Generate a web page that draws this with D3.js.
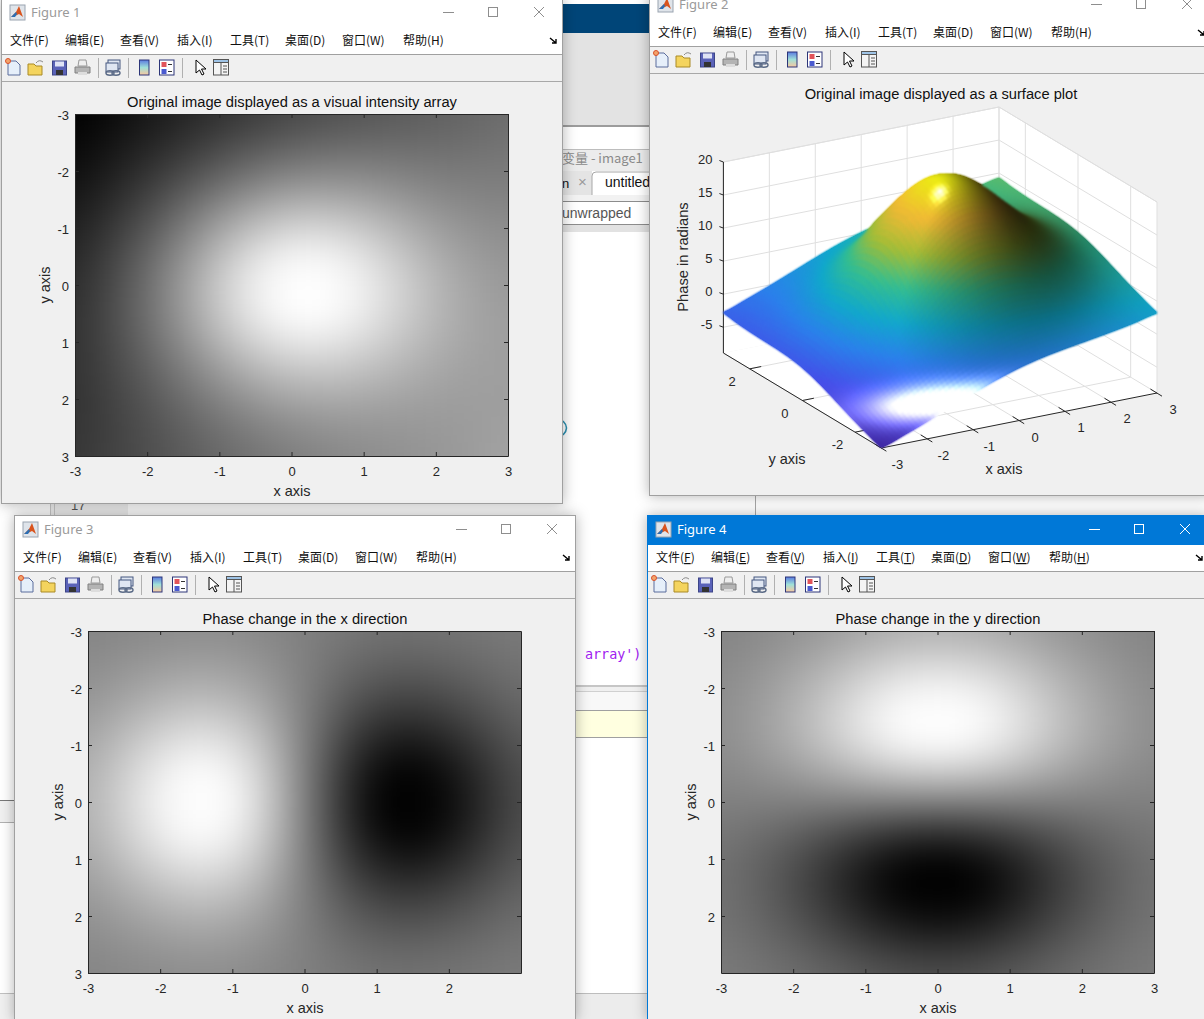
<!DOCTYPE html>
<html>
<head>
<meta charset="utf-8">
<script src="https://cdn.jsdelivr.net/npm/d3@7"></script>
<style>
  html, body {margin:0; padding:0; background:#fff; overflow:hidden;}
  svg {display:block;}
  text {font-family:"Liberation Sans", Arial, sans-serif; fill:#262626;}
  .menu {font-family:"Noto Sans CJK SC", sans-serif; font-size:12px; fill:#111;}
</style>
</head>
<body>
<script>
'use strict';

// ---- data ----
var figureNames = ['Figure 1', 'Figure 2', 'Figure 3', 'Figure 4'];
var titles = [
  'Original image displayed as a visual intensity array',
  'Original image displayed as a surface plot',
  'Phase change in the x direction',
  'Phase change in the y direction'
];
var menuNames = ['文件', '编辑', '查看', '插入', '工具', '桌面', '窗口', '帮助'];
var menuKeys = ['F', 'E', 'V', 'I', 'T', 'D', 'W', 'H'];

var gridValues = [-3, -2.5, -2, -1.5, -1, -0.5, 0, 0.5, 1, 1.5, 2, 2.5, 3];
var allTicks = [-3, -2, -1, 0, 1, 2, 3];
var shortTicks = [-3, -2, -1, 0, 1, 2];
var surfXTicks = [-3, -2, -1, 0, 1, 2, 3];
var surfYTicks = [-2, 0, 2];
var surfZTicks = [-5, 0, 5, 10, 15, 20];

// phase in radians, rows y=-3..3, columns x=-3..3
var phase = [
  [-8.78,-7.56,-6.22,-4.8,-3.36,-2.02,-0.89,-0.02,0.64,1.2,1.78,2.44,3.22],
  [-8.06,-6.62,-4.96,-3.11,-1.23,0.44,1.69,2.44,2.77,2.89,3.04,3.38,3.94],
  [-7.22,-5.46,-3.29,-0.81,1.73,3.91,5.36,5.91,5.73,5.19,4.71,4.54,4.78],
  [-6.3,-4.11,-1.31,1.99,5.38,8.21,9.9,10.21,9.38,7.99,6.69,5.89,5.7],
  [-5.36,-2.73,0.73,4.88,9.13,12.63,14.58,14.63,13.13,10.88,8.73,7.27,6.64],
  [-4.52,-1.56,2.41,7.21,12.13,16.15,18.29,18.15,16.13,13.21,10.41,8.44,7.48],
  [-3.89,-0.81,3.36,8.4,13.58,17.79,20,19.79,17.58,14.4,11.36,9.19,8.11],
  [-3.52,-0.56,3.41,8.21,13.13,17.15,19.29,19.15,17.13,14.21,11.41,9.44,8.48],
  [-3.36,-0.73,2.73,6.88,11.13,14.63,16.58,16.63,15.13,12.88,10.73,9.27,8.64],
  [-3.3,-1.11,1.69,4.99,8.38,11.21,12.9,13.21,12.38,10.99,9.69,8.89,8.7],
  [-3.22,-1.46,0.71,3.19,5.73,7.91,9.36,9.91,9.73,9.19,8.71,8.54,8.78],
  [-3.06,-1.62,0.04,1.89,3.77,5.44,6.69,7.44,7.77,7.89,8.04,8.38,8.94],
  [-2.78,-1.56,-0.22,1.2,2.64,3.98,5.11,5.98,6.64,7.2,7.78,8.44,9.22]
];

// phase change in the x direction
var changeX = [
  [2.33,2.55,2.78,2.9,2.82,2.5,2,1.5,1.18,1.1,1.22,1.45,1.67],
  [2.66,3.1,3.54,3.79,3.64,2.99,2,1.01,0.36,0.21,0.46,0.9,1.34],
  [3.17,3.93,4.71,5.14,4.87,3.73,2,0.27,-0.87,-1.14,-0.71,0.07,0.83],
  [3.8,4.99,6.19,6.87,6.44,4.68,2,-0.68,-2.44,-2.87,-2.19,-0.99,0.2],
  [4.46,6.09,7.73,8.66,8.07,5.66,2,-1.66,-4.07,-4.66,-3.73,-2.09,-0.46],
  [4.97,6.93,8.91,10.03,9.32,6.41,2,-2.41,-5.32,-6.03,-4.91,-2.93,-0.97],
  [5.17,7.24,9.36,10.55,9.79,6.7,2,-2.7,-5.79,-6.55,-5.36,-3.24,-1.17],
  [4.97,6.93,8.91,10.03,9.32,6.41,2,-2.41,-5.32,-6.03,-4.91,-2.93,-0.97],
  [4.46,6.09,7.73,8.66,8.07,5.66,2,-1.66,-4.07,-4.66,-3.73,-2.09,-0.46],
  [3.8,4.99,6.19,6.87,6.44,4.68,2,-0.68,-2.44,-2.87,-2.19,-0.99,0.2],
  [3.17,3.93,4.71,5.14,4.87,3.73,2,0.27,-0.87,-1.14,-0.71,0.07,0.83],
  [2.66,3.1,3.54,3.79,3.64,2.99,2,1.01,0.36,0.21,0.46,0.9,1.34],
  [2.33,2.55,2.78,2.9,2.82,2.5,2,1.5,1.18,1.1,1.22,1.45,1.67]
];

// phase change in the y direction
var changeY = [
  [1.33,1.66,2.17,2.8,3.46,3.97,4.17,3.97,3.46,2.8,2.17,1.66,1.33],
  [1.55,2.1,2.93,3.99,5.09,5.93,6.24,5.93,5.09,3.99,2.93,2.1,1.55],
  [1.78,2.54,3.71,5.19,6.73,7.91,8.36,7.91,6.73,5.19,3.71,2.54,1.78],
  [1.9,2.79,4.14,5.87,7.66,9.03,9.55,9.03,7.66,5.87,4.14,2.79,1.9],
  [1.82,2.64,3.87,5.44,7.07,8.32,8.79,8.32,7.07,5.44,3.87,2.64,1.82],
  [1.5,1.99,2.73,3.68,4.66,5.41,5.7,5.41,4.66,3.68,2.73,1.99,1.5],
  [1,1,1,1,1,1,1,1,1,1,1,1,1],
  [0.5,0.01,-0.73,-1.68,-2.66,-3.41,-3.7,-3.41,-2.66,-1.68,-0.73,0.01,0.5],
  [0.18,-0.64,-1.87,-3.44,-5.07,-6.32,-6.79,-6.32,-5.07,-3.44,-1.87,-0.64,0.18],
  [0.1,-0.79,-2.14,-3.87,-5.66,-7.03,-7.55,-7.03,-5.66,-3.87,-2.14,-0.79,0.1],
  [0.22,-0.54,-1.71,-3.19,-4.73,-5.91,-6.36,-5.91,-4.73,-3.19,-1.71,-0.54,0.22],
  [0.45,-0.1,-0.93,-1.99,-3.09,-3.93,-4.24,-3.93,-3.09,-1.99,-0.93,-0.1,0.45],
  [0.67,0.34,-0.17,-0.8,-1.46,-1.97,-2.17,-1.97,-1.46,-0.8,-0.17,0.34,0.67]
];

// surface colormap stops
var parula = ['#3e26a8','#4852f4','#2d87f7','#12b1d6','#37c897','#abc739','#fec338','#f9fb14'];

var width = 1204, height = 1019;
var svg = d3.select('body').append('svg')
  .attr('width', width)
  .attr('height', height);
var defs = svg.append('defs');

var shadow = defs.append('filter').attr('id', 'winShadow')
  .attr('x', '-10%').attr('y', '-10%').attr('width', '120%').attr('height', '120%');
shadow.append('feDropShadow').attr('dx', 0).attr('dy', 0).attr('stdDeviation', 7)
  .attr('flood-color', '#000').attr('flood-opacity', 0.3);

// ---- desktop behind the windows ----
function bgRect(x, y, w, h, fill){
  svg.append('rect').attr('x', x).attr('y', y).attr('width', w).attr('height', h).attr('fill', fill);
}
function bgText(x, y, str, size, fill, family){
  svg.append('text').attr('x', x).attr('y', y).text(str)
    .style('font-size', size + 'px').style('fill', fill).style('font-family', family);
}
bgRect(562, 4, 90, 29, '#004578');
bgRect(562, 33, 90, 92, '#e3e3e3');
bgRect(562, 125, 90, 2, '#9c9c9c');
bgRect(562, 150, 90, 21, '#ececec');
bgRect(562, 149, 90, 1, '#bdbdbd');
bgText(562, 163, '变量 - image1', 13, '#8a8a8a', '"Noto Sans CJK SC"');
bgRect(562, 171, 30, 24, '#e4e4e4');
bgRect(592, 171, 60, 24, '#fff');
svg.append('path').attr('d', 'M592,195V176q0,-4 4,-4H652').attr('fill', 'none').attr('stroke', '#a8a8a8');
bgText(562, 188, 'n', 13, '#111', '"Liberation Sans"');
bgText(578, 187, '×', 15, '#9a9a9a', '"Liberation Sans"');
bgText(605, 187, 'untitled', 14, '#111', '"Liberation Sans"');
bgRect(562, 195, 90, 6, '#f2f2f2');
bgRect(562, 201, 90, 1, '#8c8c8c');
bgText(562, 218, 'unwrapped', 14, '#555', '"Liberation Sans"');
bgRect(562, 224, 90, 1, '#8c8c8c');
bgRect(562, 225, 90, 7, '#e2e2e2');
svg.append('path').attr('d', 'M563,421q7,7 0,14').attr('fill', 'none').attr('stroke', '#2a8fb0').attr('stroke-width', 1.5);
bgRect(50, 503, 78, 14, '#efefef');
bgRect(50, 503, 1, 14, '#c8c8c8');
bgRect(54, 503, 1, 14, '#c8c8c8');
bgText(71, 510, '17', 13, '#555', '"Liberation Sans"');
bgRect(755, 495, 1, 20, '#a8a8a8');
bgRect(0, 800, 15, 1, '#777');
bgRect(0, 801, 15, 21, '#f0f0f0');
bgRect(0, 822, 15, 1, '#b0b0b0');
bgRect(0, 993, 15, 1, '#c0c0c0');
bgRect(0, 994, 15, 25, '#f0f0f0');
bgText(585, 659, "array')", 13.4, '#a020f0', '"DejaVu Sans Mono"');
bgRect(576, 685, 72, 2, '#c6c6c6');
bgRect(576, 687, 72, 4, '#f0f0f0');
bgRect(576, 691, 72, 1, '#d0d0d0');
bgRect(576, 692, 72, 18, '#f8f8f8');
bgRect(576, 710, 72, 1, '#a0a0a0');
bgRect(576, 711, 72, 26, '#ffffe0');
bgRect(576, 737, 72, 1, '#a0a0a0');
bgRect(576, 993, 72, 1, '#bdbdbd');
bgRect(576, 994, 72, 25, '#ececec');

// ---- window chrome ----
var toolbarBits = [
  {x:6, draw:iconNew}, {x:28, draw:iconOpen}, {x:52, draw:iconSave}, {x:75, draw:iconPrint},
  {x:105, draw:iconLink}, {x:139, draw:iconColorbar}, {x:159, draw:iconLegend},
  {x:195, draw:iconArrow}, {x:213, draw:iconPanel}
];
var separators = [98, 128, 182];
var menuX = [10, 65, 120, 177, 230, 285, 342, 403];

function iconNew(g){
  g.append('path').attr('d', 'M2,2H10L14,6V16H2Z').attr('fill', '#e6effa').attr('stroke', '#5b6c9c');
  g.append('circle').attr('cx', 2).attr('cy', 2).attr('r', 2.5).attr('fill', '#f3a46b').attr('stroke', '#d8502a');
}
function iconOpen(g){
  g.append('path').attr('d', 'M0,5H6L8,7H14V16H0Z').attr('fill', '#f4d45e').attr('stroke', '#a98a26');
  g.append('path').attr('d', 'M8,4Q11,0 15,3').attr('fill', 'none').attr('stroke', '#8a8a8a');
}
function iconSave(g){
  g.append('rect').attr('x', 0.5).attr('y', 2).attr('width', 14).attr('height', 14).attr('fill', '#5a62b8').attr('stroke', '#3c4588');
  g.append('rect').attr('x', 3).attr('y', 2.5).attr('width', 9).attr('height', 5).attr('fill', '#dfe3f5');
  g.append('rect').attr('x', 4).attr('y', 11).attr('width', 7).attr('height', 5).attr('fill', '#333');
}
function iconPrint(g){
  g.append('path').attr('d', 'M4,1H11L12,7H3Z').attr('fill', '#eeeeee').attr('stroke', '#9a9a9a');
  g.append('path').attr('d', 'M0,8H15V14H0Z').attr('fill', '#b4b4b4').attr('stroke', '#808080');
  g.append('rect').attr('x', 3).attr('y', 13).attr('width', 9).attr('height', 3).attr('fill', '#ddd');
}
function iconLink(g){
  g.append('rect').attr('x', 3).attr('y', 1).attr('width', 12).attr('height', 9).attr('fill', '#dfe6f2').attr('stroke', '#44567f');
  g.append('rect').attr('x', 1).attr('y', 4).attr('width', 12).attr('height', 9).attr('fill', '#dfe6f2').attr('stroke', '#44567f');
  g.append('ellipse').attr('cx', 5).attr('cy', 14).attr('rx', 4).attr('ry', 2.2).attr('fill', 'none').attr('stroke', '#5a6a86').attr('stroke-width', 1.5);
  g.append('ellipse').attr('cx', 11).attr('cy', 14).attr('rx', 4).attr('ry', 2.2).attr('fill', 'none').attr('stroke', '#5a6a86').attr('stroke-width', 1.5);
}
function iconColorbar(g){
  g.append('rect').attr('x', 0.5).attr('y', 1).attr('width', 9.5).attr('height', 15).attr('fill', 'url(#barGrad)').attr('stroke', '#2c3578');
}
function iconLegend(g){
  g.append('rect').attr('x', 0.5).attr('y', 1).attr('width', 14.5).attr('height', 15).attr('fill', '#fff').attr('stroke', '#2c3578');
  g.append('rect').attr('x', 2.5).attr('y', 3).attr('width', 5).attr('height', 5).attr('fill', '#e2545a');
  g.append('rect').attr('x', 2.5).attr('y', 10).attr('width', 5).attr('height', 5).attr('fill', '#4a5ad0');
  g.append('path').attr('d', 'M9,5.5H13M9,12.5H13').attr('stroke', '#333');
}
function iconArrow(g){
  g.append('path').attr('d', 'M1,1V14L4.5,11L7,16L9,15L6.5,10H11Z').attr('fill', '#fff').attr('stroke', '#000');
}
function iconPanel(g){
  g.append('rect').attr('x', 0.5).attr('y', 0.5).attr('width', 15).attr('height', 15.5).attr('fill', '#f4f4f4').attr('stroke', '#555');
  g.append('rect').attr('x', 0.5).attr('y', 0.5).attr('width', 15).attr('height', 3).attr('fill', '#9ec3e6').attr('stroke', '#555');
  g.append('path').attr('d', 'M8,4V16M10,7H14M10,10H14M10,13H14').attr('stroke', '#555').attr('fill', 'none');
}

var barGrad = defs.append('linearGradient').attr('id', 'barGrad').attr('x1', 0).attr('x2', 0).attr('y1', 0).attr('y2', 1);
barGrad.append('stop').attr('offset', '0%').attr('stop-color', '#5a7be0');
barGrad.append('stop').attr('offset', '50%').attr('stop-color', '#9fe0d8');
barGrad.append('stop').attr('offset', '100%').attr('stop-color', '#f8c8a0');

function drawWindow(idx, ox, oy, active){
  var w = svg.append('g').attr('transform', 'translate(' + ox + ',' + oy + ')');
  var edge = active ? '#0078d7' : '#a0a0a0';
  w.append('rect').attr('x', 1.5).attr('y', -1.5).attr('width', 561).attr('height', 505)
    .attr('fill', '#f0f0f0').attr('stroke', edge).attr('filter', 'url(#winShadow)');
  w.append('rect').attr('x', 2).attr('y', -1).attr('width', 560).attr('height', 55).attr('fill', '#fff');
  if(active) w.append('rect').attr('x', 1).attr('y', -2).attr('width', 562).attr('height', 30).attr('fill', '#0078d7');
  // title bar
  w.append('rect').attr('x', 10).attr('y', 5).attr('width', 15).attr('height', 15).attr('fill', '#dfe4ea').attr('stroke', '#9aa4b0');
  w.append('path').attr('d', 'M11,17L16,12L19,6L23,17L19,14L15,16Z').attr('fill', '#d9541e');
  w.append('path').attr('d', 'M11,17L16,12L17,14L15,17Z').attr('fill', '#2a6fb5');
  w.append('text').attr('x', 31).attr('y', 17).text(figureNames[idx])
    .style('font-family', '"Noto Sans", sans-serif').style('font-size', '13px')
    .style('fill', active ? '#fff' : '#9a9a9a');
  var ctl = active ? '#fff' : '#8e8e8e';
  w.append('path').attr('d', 'M443,12.5H454').attr('stroke', ctl);
  w.append('rect').attr('x', 488.5).attr('y', 7.5).attr('width', 9).attr('height', 9).attr('fill', 'none').attr('stroke', ctl);
  w.append('path').attr('d', 'M534,7L544,17M544,7L534,17').attr('stroke', ctl);
  // menu
  menuNames.forEach(function(name, i){
    var t = w.append('text').attr('class', 'menu').attr('x', menuX[i]).attr('y', 45);
    t.append('tspan').text(name + '(');
    t.append('tspan').text(menuKeys[i]).style('text-decoration', active ? 'underline' : 'none');
    t.append('tspan').text(')');
  });
  w.append('path').attr('d', 'M550,38L556,43M556,39V43H552').attr('stroke', '#000').attr('fill', 'none').attr('stroke-width', 1.4);
  // toolbar
  w.append('rect').attr('x', 2).attr('y', 54).attr('width', 560).attr('height', 1).attr('fill', '#a0a0a0');
  w.append('rect').attr('x', 2).attr('y', 81).attr('width', 560).attr('height', 1).attr('fill', '#a8a8a8');
  separators.forEach(function(x){
    w.append('rect').attr('x', x).attr('y', 58).attr('width', 1).attr('height', 20).attr('fill', '#b0b0b0');
  });
  toolbarBits.forEach(function(b){
    b.draw(w.append('g').attr('transform', 'translate(' + b.x + ',59)'));
  });
  return w;
}

function axisLook(g){
  g.style('font-family', '"Liberation Sans", Arial, sans-serif').style('font-size', '13px');
  g.selectAll('.domain').attr('stroke', '#262626');
  g.selectAll('.tick line').attr('stroke', '#262626');
  g.selectAll('.tick text').style('fill', '#262626');
}

// ---- gray image panels ----
function drawImage(idx, table, domain, xTicks, yTicks, ox, oy, active){
  var w = drawWindow(idx, ox, oy, active);
  var xScale = d3.scaleLinear().domain([-3, 3]).range([75, 508]);
  var yScale = d3.scaleLinear().domain([-3, 3]).range([114, 456]);
  var gray = d3.scaleLinear().domain(domain).range(['#000000', '#ffffff']).clamp(true);
  var xBand = d3.scaleBand().domain(gridValues).range([xScale(-3.25), xScale(3.25)]);
  var yBand = d3.scaleBand().domain(gridValues).range([yScale(-3.25), yScale(3.25)]);

  var blur = defs.append('filter').attr('id', 'imgBlur' + idx)
    .attr('filterUnits', 'userSpaceOnUse')
    .attr('x', 0).attr('y', 40).attr('width', 600).attr('height', 520)
    .attr('color-interpolation-filters', 'sRGB');
  blur.append('feGaussianBlur').attr('stdDeviation', (xBand.bandwidth() * 0.55) + ' ' + (yBand.bandwidth() * 0.55));
  defs.append('clipPath').attr('id', 'imgClip' + idx).append('rect')
    .attr('x', 75).attr('y', 114).attr('width', 433).attr('height', 342);

  var cells = [];
  table.forEach(function(row, j){
    row.forEach(function(v, i){ cells.push({i:i, j:j, v:v}); });
  });
  var pad = 45; // outer cells run past the axes so the blur does not fade at the edge
  w.append('g').attr('clip-path', 'url(#imgClip' + idx + ')')
    .append('g').attr('filter', 'url(#imgBlur' + idx + ')')
    .selectAll('rect').data(cells).enter().append('rect')
      .attr('x', function(d){return xBand(gridValues[d.i]) - (d.i === 0 ? pad : 0);})
      .attr('y', function(d){return yBand(gridValues[d.j]) - (d.j === 0 ? pad : 0);})
      .attr('width', function(d){return xBand.bandwidth() + 0.6 + (d.i === 0 || d.i === 12 ? pad : 0);})
      .attr('height', function(d){return yBand.bandwidth() + 0.6 + (d.j === 0 || d.j === 12 ? pad : 0);})
      .attr('fill', function(d){return gray(d.v);});

  var fmt = function(d){return String(d);};
  w.append('g').attr('transform', 'translate(0,456)')
    .call(d3.axisBottom(xScale).tickValues(xTicks).tickSizeInner(-4).tickSizeOuter(0).tickPadding(10.5).tickFormat(fmt)).call(axisLook);
  w.append('g').attr('transform', 'translate(75,0)')
    .call(d3.axisLeft(yScale).tickValues(yTicks).tickSizeInner(-4).tickSizeOuter(0).tickPadding(6).tickFormat(fmt)).call(axisLook)
    .selectAll('.tick text').attr('y', 1);
  w.append('g').attr('transform', 'translate(0,114)')
    .call(d3.axisTop(xScale).tickValues(xTicks).tickSizeInner(-4).tickSizeOuter(0).tickFormat('')).call(axisLook);
  w.append('g').attr('transform', 'translate(508,0)')
    .call(d3.axisRight(yScale).tickValues(yTicks).tickSizeInner(-4).tickSizeOuter(0).tickFormat('')).call(axisLook);

  w.append('text').attr('x', 292).attr('y', 107).attr('text-anchor', 'middle').text(titles[idx]).style('font-size', '14.7px').style('fill', '#111');
  w.append('text').attr('x', 292).attr('y', 496).attr('text-anchor', 'middle').text('x axis').style('font-size', '14.5px');
  w.append('text').attr('transform', 'translate(50,285) rotate(-90)').attr('text-anchor', 'middle').text('y axis').style('font-size', '14.5px');
}

// ---- surface panel ----
// catmull-rom through four neighbours, used only to shade the mesh the way interp shading does
function spline(list, t){
  var k = Math.min(Math.floor(t), list.length - 2), u = t - k;
  var a = list[Math.max(k - 1, 0)], b = list[k], c = list[k + 1], d = list[Math.min(k + 2, list.length - 1)];
  return b + 0.5 * u * (c - a + u * (2 * a - 5 * b + 4 * c - d + u * (3 * (b - c) + d - a)));
}
function refine(table, steps, m){
  var rowsFine = table.map(function(row){
    return d3.range(m).map(function(a){return spline(row, a / steps);});
  });
  return d3.range(m).map(function(b){
    return d3.range(m).map(function(a){
      return spline(rowsFine.map(function(r){return r[a];}), b / steps);
    });
  });
}

function drawSurface(idx, ox, oy){
  var w = drawWindow(idx, ox, oy, false);
  // page coordinates minus the window offset
  var horizX = d3.scaleLinear().domain([-3, 3]).range([0, 275.6]);
  var horizY = d3.scaleLinear().domain([-3, 3]).range([0, -158]);
  var vertX = d3.scaleLinear().domain([-3, 3]).range([0, -55]);
  var vertY = d3.scaleLinear().domain([-3, 3]).range([0, -95]);
  var vertZ = d3.scaleLinear().domain([-8.9, 20]).range([0, -191]);
  var x0 = 881.4 - ox, y0 = 448 - oy;
  function proj(x, y, z){
    return [x0 + horizX(x) + horizY(y), y0 + vertX(x) + vertY(y) + vertZ(z)];
  }

  var line = d3.line();
  function wall(points, fill, stroke){
    w.append('path').attr('d', line(points) + 'Z').attr('fill', fill).attr('stroke', stroke || 'none');
  }
  wall([proj(-3,3,-8.9), proj(3,3,-8.9), proj(3,3,20), proj(-3,3,20)], '#fff');
  wall([proj(3,3,-8.9), proj(3,-3,-8.9), proj(3,-3,20), proj(3,3,20)], '#fff');
  wall([proj(-3,-3,-8.9), proj(3,-3,-8.9), proj(3,3,-8.9), proj(-3,3,-8.9)], '#fff');

  var gridColor = '#dfdfdf';
  var grid = w.append('g').attr('fill', 'none').attr('stroke', gridColor);
  surfXTicks.forEach(function(x){
    grid.append('path').attr('d', line([proj(x,-3,-8.9), proj(x,3,-8.9), proj(x,3,20)]));
  });
  surfYTicks.forEach(function(y){
    grid.append('path').attr('d', line([proj(-3,y,-8.9), proj(3,y,-8.9), proj(3,y,20)]));
  });
  surfZTicks.forEach(function(z){
    grid.append('path').attr('d', line([proj(-3,3,z), proj(3,3,z), proj(3,-3,z)]));
  });
  grid.append('path').attr('d', line([proj(3,3,-8.9), proj(3,3,20)]));
  grid.append('path').attr('d', line([proj(-3,3,20), proj(3,3,20), proj(3,-3,20), proj(3,-3,-8.9)]));

  // axis lines and ticks
  var axisGroup = w.append('g').attr('fill', 'none').attr('stroke', '#262626');
  axisGroup.append('path').attr('d', line([proj(-3,3,20), proj(-3,3,-8.9), proj(-3,-3,-8.9), proj(3,-3,-8.9)]));
  surfXTicks.forEach(function(x){
    var p = proj(x,-3,-8.9);
    axisGroup.append('path').attr('d', line([[p[0] + 5, p[1] + 3.2], proj(x,-2.75,-8.9)]));
  });
  surfYTicks.forEach(function(y){
    axisGroup.append('path').attr('d', line([proj(-3,y,-8.9), proj(-2.75,y,-8.9)]));
  });
  surfZTicks.forEach(function(z){
    var p = proj(-3,3,z);
    axisGroup.append('path').attr('d', line([p, [p[0] - 4, p[1] - 1.5]]));
  });

  // shaded mesh: the tables above, six steps per cell
  var steps = 6;
  var m = (gridValues.length - 1) * steps + 1;
  var fineAt = d3.scaleLinear().domain([0, m - 1]).range([-3, 3]);
  var fine = refine(phase, steps, m);
  var fineGx = refine(changeX, steps, m);
  var fineGy = refine(changeY, steps, m);

  var colorPos = d3.range(parula.length).map(function(k){return -8.8 + k * (29.05 / (parula.length - 1));});
  var colorScale = d3.scaleLinear().domain(colorPos).range(parula).clamp(true);
  var diffuseDir = [-0.72, 0.1, 0.68];
  var halfDir = [-0.39, -0.37, 0.843];
  function vertexColor(b, a){
    var nx = -0.141 * fineGx[b][a], ny = -0.141 * fineGy[b][a], nz = 1;
    var len = Math.sqrt(nx * nx + ny * ny + nz * nz);
    nx /= len; ny /= len; nz /= len;
    var dif = Math.max(0, nx * diffuseDir[0] + ny * diffuseDir[1] + nz * diffuseDir[2]);
    var shade = Math.min(0.2 + 0.9 * dif, 0.95);
    var spec = Math.pow(Math.max(0, nx * halfDir[0] + ny * halfDir[1] + nz * halfDir[2]), 170) * 1.25;
    var base = d3.rgb(colorScale(fine[b][a]));
    return [
      base.r * shade + 255 * spec,
      base.g * shade + 255 * spec,
      base.b * shade + 255 * spec
    ];
  }
  var quads = [];
  for(var b = 0; b < m - 1; b++){
    for(var a = 0; a < m - 1; a++){
      var corners = [[b,a], [b,a+1], [b+1,a+1], [b+1,a]];
      var cols = corners.map(function(c){return vertexColor(c[0], c[1]);});
      quads.push({
        pts: corners.map(function(c){return proj(fineAt(c[1]), fineAt(c[0]), fine[c[0]][c[1]]);}),
        color: d3.rgb(d3.mean(cols, function(c){return c[0];}), d3.mean(cols, function(c){return c[1];}), d3.mean(cols, function(c){return c[2];})).clamp().formatRgb(),
        depth: d3.mean(corners, function(c){
          return 50 * (fineAt(c[1]) * -0.433 + fineAt(c[0]) * -0.75) + 7.07 * fine[c[0]][c[1]] * 0.367;
        })
      });
    }
  }
  quads.sort(function(p, q){return d3.ascending(p.depth, q.depth);});

  var soften = defs.append('filter').attr('id', 'meshSoften')
    .attr('filterUnits', 'userSpaceOnUse')
    .attr('x', 0).attr('y', 0).attr('width', 600).attr('height', 520)
    .attr('color-interpolation-filters', 'sRGB');
  soften.append('feGaussianBlur').attr('stdDeviation', 1.1);
  soften.append('feComponentTransfer').append('feFuncA').attr('type', 'linear').attr('slope', 1.8);

  w.append('g').attr('filter', 'url(#meshSoften)').attr('stroke-width', 0.8).attr('stroke-linejoin', 'round')
    .selectAll('path').data(quads).enter().append('path')
      .attr('d', function(d){return line(d.pts) + 'Z';})
      .attr('fill', function(d){return d.color;})
      .attr('stroke', function(d){return d.color;});

  // tick labels
  var labelGroup = w.append('g').style('font-size', '13px');
  surfZTicks.forEach(function(z){
    var p = proj(-3,3,z);
    labelGroup.append('text').attr('x', p[0] - 11).attr('y', p[1] + 2).attr('text-anchor', 'end').text(z);
  });
  surfXTicks.forEach(function(x){
    var p = proj(x,-3,-8.9);
    labelGroup.append('text').attr('x', p[0] + 16).attr('y', p[1] + 21).attr('text-anchor', 'middle').text(x);
  });
  surfYTicks.forEach(function(y){
    var p = proj(-3,y,-8.9);
    labelGroup.append('text').attr('x', p[0] - 17.5).attr('y', p[1] + 17).attr('text-anchor', 'middle').text(y);
  });

  w.append('text').attr('x', 293).attr('y', 107).attr('text-anchor', 'middle').text(titles[idx]).style('font-size', '14.7px').style('fill', '#111');
  w.append('text').attr('x', 1004 - ox).attr('y', 474 - oy).attr('text-anchor', 'middle').text('x axis').style('font-size', '14.5px');
  w.append('text').attr('x', 787 - ox).attr('y', 464 - oy).attr('text-anchor', 'middle').text('y axis').style('font-size', '14.5px');
  w.append('text').attr('transform', 'translate(' + (688 - ox) + ',' + (257 - oy) + ') rotate(-90)').attr('text-anchor', 'middle').text('Phase in radians').style('font-size', '14.7px');
}

drawSurface(1, 648, -8);
drawImage(0, phase, [-8.78, 19.3], allTicks, allTicks, 0, 0, false);
drawImage(2, changeX, [-6, 10], shortTicks, allTicks, 13, 517, false);
drawImage(3, changeY, [-7, 9], allTicks, shortTicks, 646, 517, true);
</script>
</body>
</html>
